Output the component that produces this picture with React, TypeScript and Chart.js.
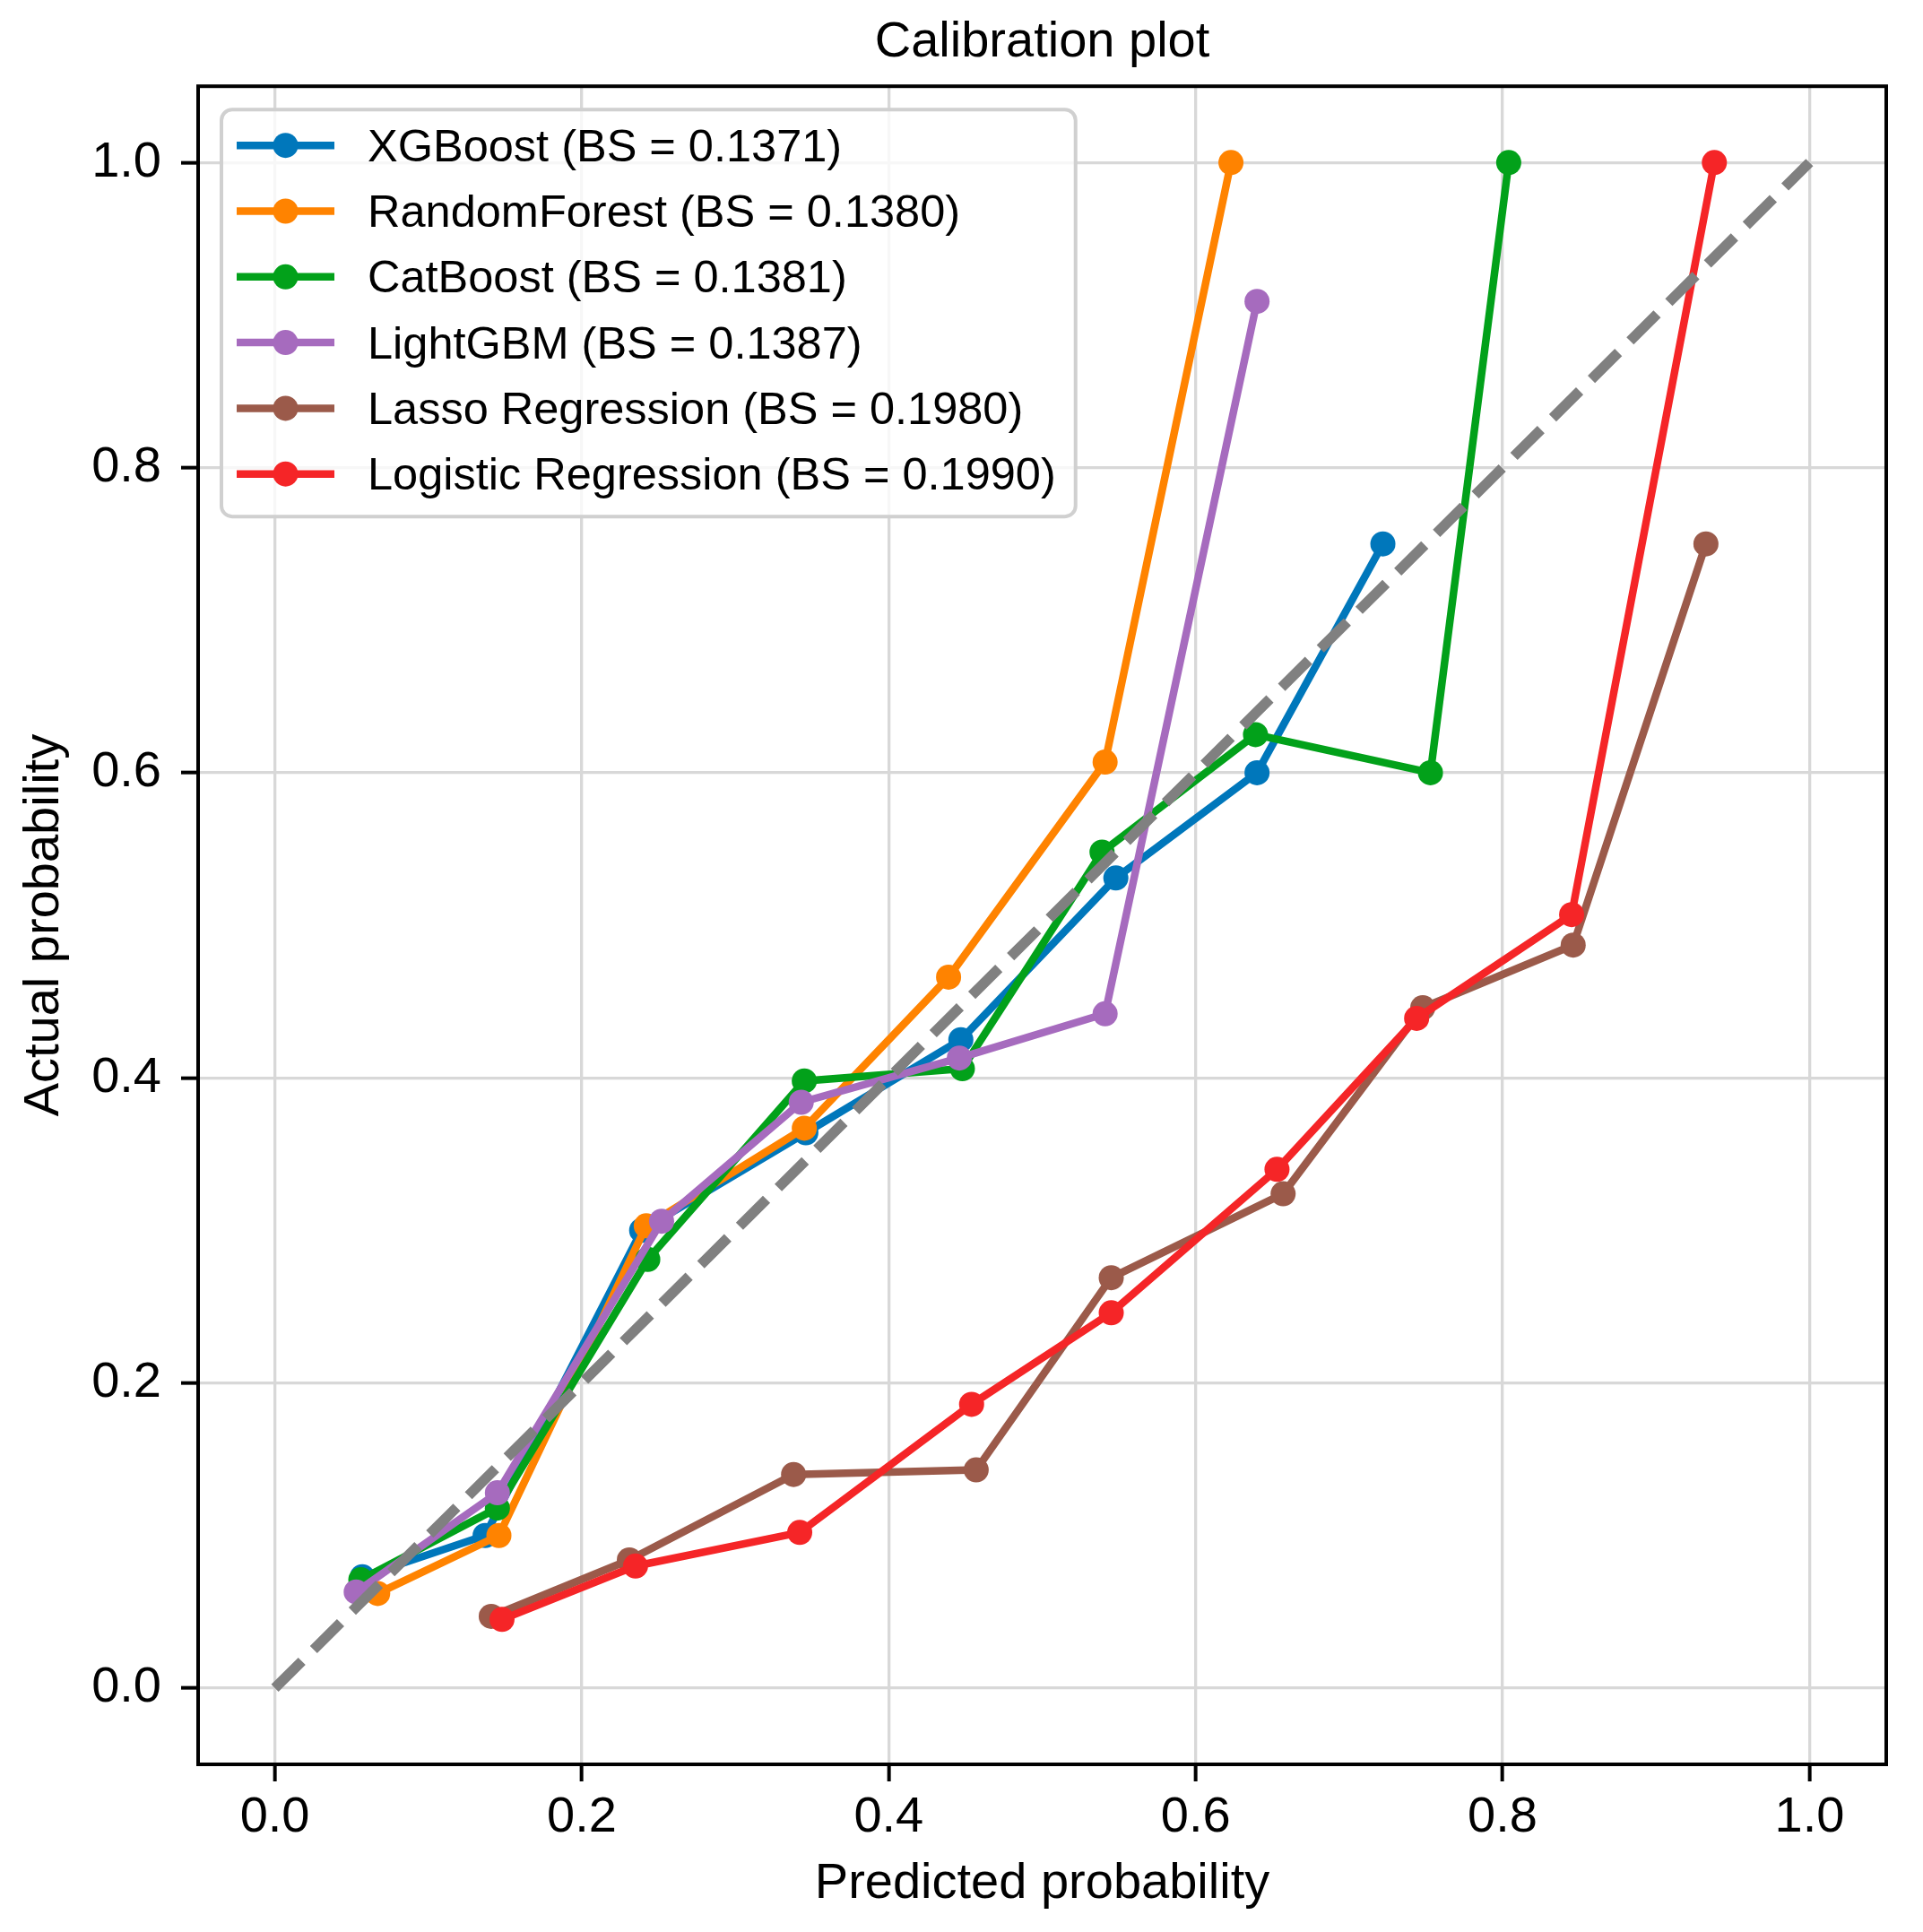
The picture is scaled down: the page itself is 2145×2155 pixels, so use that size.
import React, { useEffect, useRef } from "react";
import { Chart, registerables } from "chart.js";

Chart.register(...registerables);

// ---- data -------------------------------------------------------------
const TITLE = "Calibration plot";
const X_LABEL = "Predicted probability";
const Y_LABEL = "Actual probability";

const X_TICKS = [0.0, 0.2, 0.4, 0.6, 0.8, 1.0];
const Y_TICKS = [0.0, 0.2, 0.4, 0.6, 0.8, 1.0];

const MODEL_NAMES = [
  "XGBoost",
  "RandomForest",
  "CatBoost",
  "LightGBM",
  "Lasso Regression",
  "Logistic Regression",
];
const BRIER_SCORES = ["0.1371", "0.1380", "0.1381", "0.1387", "0.1980", "0.1990"];
const MODEL_COLORS = ["#0077BB", "#FF8300", "#02A11A", "#A66BBE", "#9B5A4A", "#F52527"];

const XGB_PRED = [0.057, 0.137, 0.239, 0.346, 0.447, 0.548, 0.640, 0.722];
const XGB_ACTUAL = [0.073, 0.100, 0.300, 0.364, 0.425, 0.531, 0.600, 0.750];

const RF_PRED = [0.067, 0.146, 0.242, 0.345, 0.439, 0.541, 0.623];
const RF_ACTUAL = [0.062, 0.100, 0.303, 0.367, 0.466, 0.607, 1.000];

const CAT_PRED = [0.056, 0.145, 0.243, 0.345, 0.448, 0.539, 0.639, 0.753, 0.804];
const CAT_ACTUAL = [0.071, 0.118, 0.281, 0.398, 0.406, 0.548, 0.625, 0.600, 1.000];

const LGBM_PRED = [0.053, 0.145, 0.252, 0.343, 0.446, 0.541, 0.640];
const LGBM_ACTUAL = [0.063, 0.128, 0.306, 0.384, 0.413, 0.442, 0.909];

const LASSO_PRED = [0.141, 0.231, 0.338, 0.457, 0.545, 0.657, 0.748, 0.846, 0.9325];
const LASSO_ACTUAL = [0.047, 0.084, 0.140, 0.143, 0.269, 0.324, 0.446, 0.487, 0.750];

const LOGIT_PRED = [0.148, 0.235, 0.342, 0.454, 0.545, 0.653, 0.744, 0.845, 0.938];
const LOGIT_ACTUAL = [0.045, 0.080, 0.102, 0.186, 0.246, 0.340, 0.439, 0.507, 1.000];

const DIAG_X = [0, 1];
const DIAG_Y = [0, 1];

const SERIES_X = [XGB_PRED, RF_PRED, CAT_PRED, LGBM_PRED, LASSO_PRED, LOGIT_PRED];
const SERIES_Y = [XGB_ACTUAL, RF_ACTUAL, CAT_ACTUAL, LGBM_ACTUAL, LASSO_ACTUAL, LOGIT_ACTUAL];

// ---- styling ----------------------------------------------------------
const FONT_FAMILY = "'Liberation Sans', Arial, Helvetica, sans-serif";
const W = 2145;
const H = 2155;

const toPoints = (xs: number[], ys: number[]) => xs.map((x, i) => ({ x, y: ys[i] }));

// black frame around the plotting area, drawn over the lines
const framePlugin = {
  id: "axesFrame",
  afterDatasetsDraw(chart: any) {
    const { ctx, chartArea: a } = chart;
    ctx.save();
    ctx.strokeStyle = "#000";
    ctx.lineWidth = 4;
    ctx.strokeRect(a.left, a.top, a.right - a.left, a.bottom - a.top);
    ctx.restore();
  },
};

// inset legend in the upper-left corner of the plotting area
const insetLegendPlugin = {
  id: "insetLegend",
  afterDraw(chart: any) {
    const { ctx, chartArea: a } = chart;
    const items = chart.data.datasets.filter((d: any) => d.inLegend);
    const fontSize = 50.5;
    ctx.save();
    ctx.font = `${fontSize}px ${FONT_FAMILY}`;
    const boxX = a.left + 26;
    const boxY = a.top + 26;
    const textX = boxX + 163;
    const rowGap = 73.3;
    const firstRow = boxY + 40;
    let maxW = 0;
    items.forEach((d: any) => {
      maxW = Math.max(maxW, ctx.measureText(d.label).width);
    });
    const boxW = textX + maxW + 22 - boxX;
    const boxH = 454;
    const r = 12;
    ctx.beginPath();
    ctx.moveTo(boxX + r, boxY);
    ctx.lineTo(boxX + boxW - r, boxY);
    ctx.arcTo(boxX + boxW, boxY, boxX + boxW, boxY + r, r);
    ctx.lineTo(boxX + boxW, boxY + boxH - r);
    ctx.arcTo(boxX + boxW, boxY + boxH, boxX + boxW - r, boxY + boxH, r);
    ctx.lineTo(boxX + r, boxY + boxH);
    ctx.arcTo(boxX, boxY + boxH, boxX, boxY + boxH - r, r);
    ctx.lineTo(boxX, boxY + r);
    ctx.arcTo(boxX, boxY, boxX + r, boxY, r);
    ctx.closePath();
    ctx.fillStyle = "rgba(255,255,255,0.8)";
    ctx.fill();
    ctx.strokeStyle = "#d0d0d0";
    ctx.lineWidth = 4;
    ctx.stroke();

    items.forEach((d: any, i: number) => {
      const y = firstRow + i * rowGap;
      const x0 = boxX + 17;
      const x1 = boxX + 126;
      ctx.strokeStyle = d.borderColor;
      ctx.lineWidth = d.borderWidth;
      ctx.lineCap = "butt";
      ctx.beginPath();
      ctx.moveTo(x0, y);
      ctx.lineTo(x1, y);
      ctx.stroke();
      ctx.fillStyle = d.borderColor;
      ctx.beginPath();
      ctx.arc((x0 + x1) / 2, y, d.pointRadius, 0, Math.PI * 2);
      ctx.fill();
      ctx.fillStyle = "#000";
      ctx.textAlign = "left";
      ctx.textBaseline = "alphabetic";
      ctx.fillText(d.label, textX, y + 17.5);
    });
    ctx.restore();
  },
};

export default function App() {
  const canvasRef = useRef<HTMLCanvasElement | null>(null);

  useEffect(() => {
    const canvas = canvasRef.current;
    if (!canvas) return;

    Chart.defaults.font.family = FONT_FAMILY;
    Chart.defaults.color = "#000";

    const n = MODEL_NAMES.length;
    const modelSets = MODEL_NAMES.map((name, i) => ({
      label: `${name} (BS = ${BRIER_SCORES[i]})`,
      data: toPoints(SERIES_X[i], SERIES_Y[i]),
      borderColor: MODEL_COLORS[i],
      backgroundColor: MODEL_COLORS[i],
      pointBackgroundColor: MODEL_COLORS[i],
      pointBorderWidth: 0,
      pointRadius: 14,
      pointHoverRadius: 14,
      borderWidth: 8.5,
      borderJoinStyle: "round",
      tension: 0,
      fill: false,
      order: n - i,
      inLegend: true,
    }));

    const diagonal = {
      label: "Perfectly calibrated",
      data: toPoints(DIAG_X, DIAG_Y),
      borderColor: "#808080",
      backgroundColor: "#808080",
      borderWidth: 11.5,
      borderDash: [42.5, 18.4],
      borderCapStyle: "butt",
      pointRadius: 0,
      pointHoverRadius: 0,
      tension: 0,
      fill: false,
      order: 0,
      inLegend: false,
    };

    const axisFont = { size: 56, family: FONT_FAMILY };

    const chart = new Chart(canvas, {
      type: "line",
      data: { datasets: [...modelSets, diagonal] as any },
      options: {
        responsive: false,
        maintainAspectRatio: false,
        animation: false,
        devicePixelRatio: 1,
        events: [],
        layout: { padding: { left: 0, top: 0, right: 41, bottom: 0 } },
        plugins: {
          legend: { display: false },
          tooltip: { enabled: false },
          title: {
            display: true,
            fullSize: false,
            text: TITLE,
            color: "#000",
            font: { size: 56, weight: "normal", family: FONT_FAMILY },
            padding: { top: 14, bottom: 15 },
          },
        },
        scales: {
          x: {
            type: "linear",
            min: -0.05,
            max: 1.05,
            afterBuildTicks: (s: any) => {
              s.ticks = X_TICKS.map((v) => ({ value: v }));
            },
            afterFit: (s: any) => {
              s.height = 187;
            },
            ticks: {
              callback: (v: any) => Number(v).toFixed(1),
              font: axisFont,
              color: "#000",
              padding: 7,
              maxRotation: 0,
              autoSkip: false,
            },
            grid: {
              color: "#d8d8d8",
              lineWidth: 3.3,
              tickColor: "#000",
              tickWidth: 4,
              tickLength: 19,
            },
            border: { display: false },
            title: {
              display: true,
              text: X_LABEL,
              font: axisFont,
              color: "#000",
              padding: { top: 0, bottom: 20 },
            },
          },
          y: {
            type: "linear",
            min: -0.05,
            max: 1.05,
            afterBuildTicks: (s: any) => {
              s.ticks = Y_TICKS.map((v) => ({ value: v }));
            },
            afterFit: (s: any) => {
              s.width = 221;
            },
            ticks: {
              callback: (v: any) => Number(v).toFixed(1),
              font: axisFont,
              color: "#000",
              padding: 22,
              autoSkip: false,
            },
            grid: {
              color: "#d8d8d8",
              lineWidth: 3.3,
              tickColor: "#000",
              tickWidth: 4,
              tickLength: 19,
            },
            border: { display: false },
            title: {
              display: true,
              text: Y_LABEL,
              font: axisFont,
              color: "#000",
              padding: { top: 16, bottom: 0 },
            },
          },
        },
      } as any,
      plugins: [framePlugin, insetLegendPlugin],
    });

    return () => chart.destroy();
  }, []);

  return (
    <div
      style={{
        position: "absolute",
        left: 0,
        top: 0,
        width: W,
        height: H,
        background: "#fff",
      }}
    >
      <canvas
        ref={canvasRef}
        width={W}
        height={H}
        style={{ display: "block", width: W, height: H }}
      />
    </div>
  );
}
